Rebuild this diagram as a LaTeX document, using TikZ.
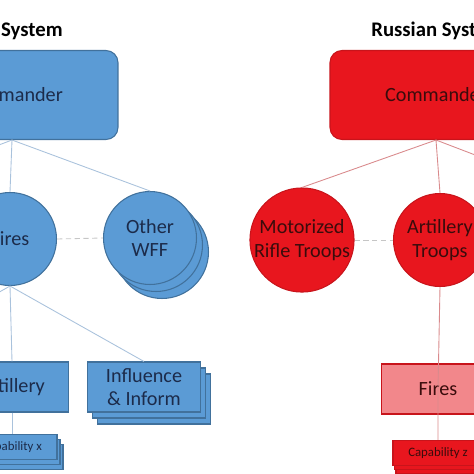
\documentclass[tikz,border=0pt]{standalone}
\usepackage{fontspec}
\setmainfont{Carlito}
\usetikzlibrary{shadows}
\definecolor{usfill}{HTML}{5B9BD5}
\definecolor{usdraw}{HTML}{41719C}
\definecolor{ustext}{HTML}{1C2B4A}
\definecolor{uslinecol}{HTML}{A9C2DC}
\definecolor{rufill}{HTML}{E8161E}
\definecolor{rudraw}{HTML}{C8141B}
\definecolor{rupink}{HTML}{F2878B}
\definecolor{rulinecol}{HTML}{D98A8C}
\definecolor{rutext}{HTML}{3A0C0C}

\begin{document}
\begin{tikzpicture}[x=0.02cm,y=-0.02cm,
  title/.style={font=\bfseries\fontsize{11.8}{13}\selectfont,text=black,inner sep=0pt},
  usnode/.style={fill=usfill,draw=usdraw,line width=0.6pt,text=ustext,
    font=\fontsize{11.5}{13.5}\selectfont,align=center},
  runode/.style={fill=rufill,draw=rudraw,line width=0.6pt,text=rutext,
    font=\fontsize{11.5}{13.5}\selectfont,align=center},
  cmdbox/.style={rectangle,rounded corners=0.24cm,minimum width=4.24cm,minimum height=1.78cm},
  wff/.style={circle,minimum size=1.86cm,inner sep=0pt},
  unitbox/.style={rectangle,minimum width=2.26cm,minimum height=1cm,inner sep=1pt},
  capbox/.style={rectangle,minimum width=1.8cm,minimum height=0.5cm,inner sep=1pt,
    font=\fontsize{7.3}{8}\selectfont},
  uslink/.style={draw=uslinecol,line width=0.5pt},
  rulink/.style={draw=rulinecol,line width=0.5pt},
  peer/.style={draw=gray!45,line width=0.5pt,densely dashed}]
\useasboundingbox (0,0) rectangle (474,474);
\clip (0,0) rectangle (474,474);

% titles
\node[title,anchor=east] (ustitle) at (63,31) {US System};
\node[title,anchor=west] (rutitle) at (371,31) {Russian System};

% US side
\node[usnode,cmdbox] (uscmd) at (12,95) {Commander};
\node[usnode,wff] (usfires) at (10,239) {Fires};
\node[usnode,wff,copy shadow={shadow xshift=0.24cm,shadow yshift=-0.28cm},
  copy shadow={shadow xshift=0.12cm,shadow yshift=-0.14cm}] (uswff) at (150,238) {Other\\WFF};
\node[usnode,unitbox] (usart) at (12,387) {Artillery};
\node[usnode,unitbox,copy shadow={shadow xshift=0.2cm,shadow yshift=-0.24cm},
  copy shadow={shadow xshift=0.1cm,shadow yshift=-0.12cm}] (usinf) at (144,387) {Influence\\\& Inform};
\node[usnode,capbox,copy shadow={shadow xshift=0.12cm,shadow yshift=-0.2cm},
  copy shadow={shadow xshift=0.06cm,shadow yshift=-0.1cm}] (uscap) at (12,447) {Capability x};
\coordinate (usleft) at (-126,192);
\coordinate (usfleft) at (-124,362);

\draw[uslink] (uscmd.south) -- (usfires.north);
\draw[uslink] (uscmd.south) -- (uswff.north);
\draw[uslink] (uscmd.south) -- (usleft);
\draw[uslink] (usfires.south) -- (usart.north);
\draw[uslink] (usfires.south) -- (usinf.north);
\draw[uslink] (usfires.south) -- (usfleft);
\draw[uslink] (usart.south) -- (uscap.north);
\draw[peer] (usfires.east) -- (uswff.west);

% Russian side
\node[runode,cmdbox] (rucmd) at (436,95) {Commander};
\node[runode,wff] (rumrt) at (302,240) {Motorized\\Rifle Troops};
\node[runode,wff] (ruart) at (440,240) {Artillery\\Troops};
\node[runode,unitbox,fill=rupink] (rufires) at (438,389) {Fires};
\node[runode,capbox,copy shadow={shadow xshift=0.06cm,shadow yshift=-0.16cm},
  copy shadow={shadow xshift=0.03cm,shadow yshift=-0.08cm}] (rucap) at (438,453) {Capability z};
\coordinate (ruright) at (572,192);

\draw[rulink] (rucmd.south) -- (rumrt.north);
\draw[rulink] (rucmd.south) -- (ruart.north);
\draw[rulink] (rucmd.south) -- (ruright);
\draw[rulink] (ruart.south) -- (rufires.center) -- (rucap.north);
\draw[peer] (rumrt.east) -- (ruart.west);
\end{tikzpicture}
\end{document}
